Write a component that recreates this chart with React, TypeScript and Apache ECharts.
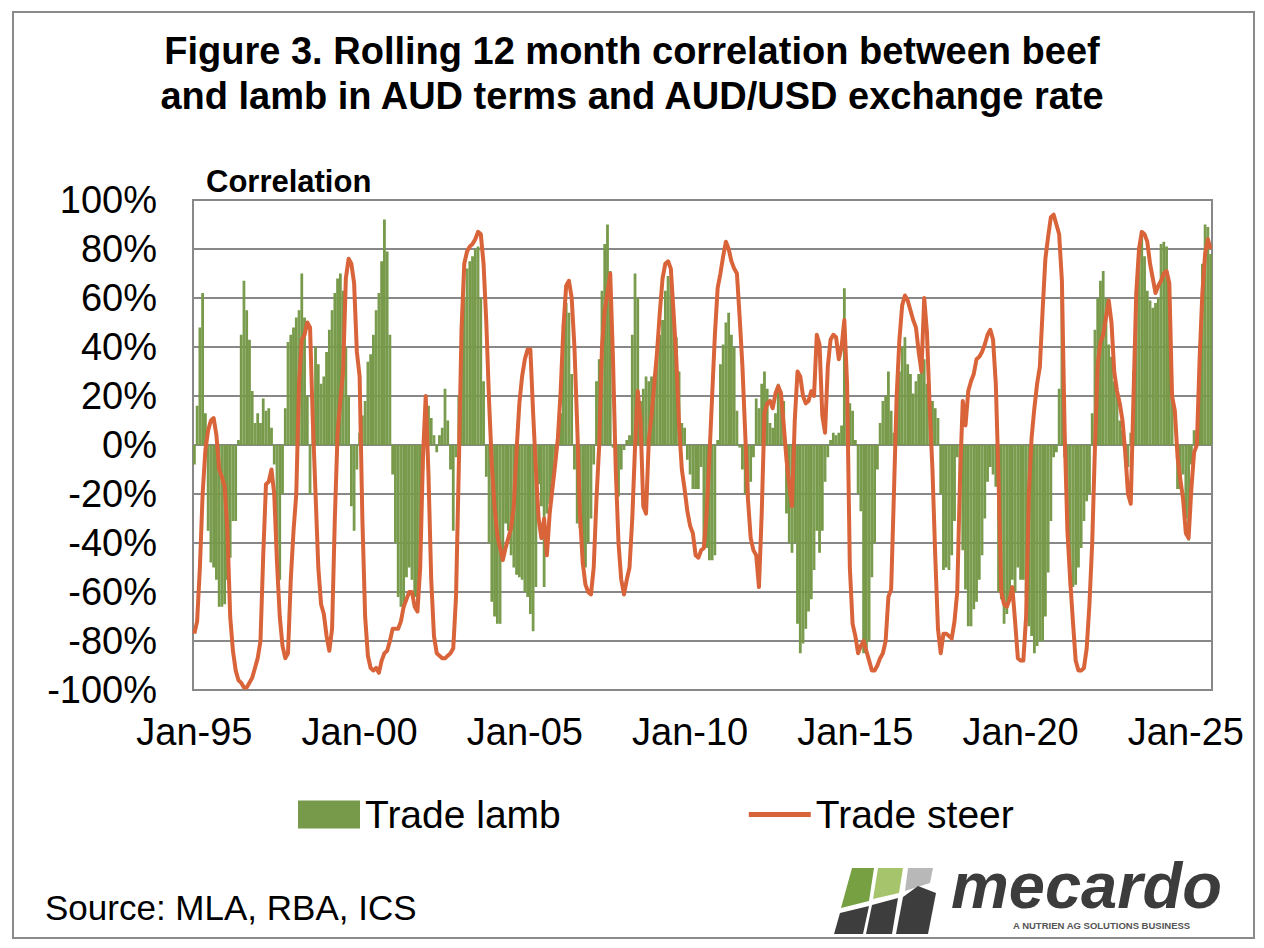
import { useEffect, useRef } from "react";
import * as echarts from "echarts";

// Monthly rolling 12-month correlations, Jan-95 onwards (percent)
const startYear = 1995;
const monthNames = ["Jan", "Feb", "Mar", "Apr", "May", "Jun", "Jul", "Aug", "Sep", "Oct", "Nov", "Dec"];

const lambCorr: number[] = [
  -8, 16, 48, 62, 13, -35, -48, -50, -55, -66, -66, -65,
  -55, -46, -31, -31, 2, 45, 67, 55, 43, 22, 9, 13,
  9, 19, 14, 15, 7, -8, -40, -55, -20, 15, 42, 45,
  48, 52, 55, 70, 52, 20, -20, 15, 40, 33, 25, 28,
  38, 47, 55, 62, 68, 70, 63, 40, 20, -25, -35, -10,
  5, 12, 18, 34, 37, 45, 55, 62, 75, 92, 79, 45,
  -12, -40, -62, -66, -66, -54, -50, -55, -62, -66, -40, -10,
  5, 16, 11, 4, -3, 4, 7, 23, 10, -10, -35, -5,
  20, 45, 60, 72, 75, 77, 80, 81, 60, 26, -13, -40,
  -64, -70, -73, -73, -47, -32, -35, -45, -50, -53, -54, -55,
  -60, -62, -69, -76, -58, -16, -25, -58, -28, -24, -15, -5,
  5, 13, 47, 58, 54, 29, -10, -32, -34, -46, -50, -40,
  -30, -8, 26, 35, 63, 82, 90, 71, -1, -5, -21, -10,
  -2, 2, 4, 45, 70, 60, 18, 23, 28, 26, 28, 29,
  37, 45, 51, 63, 69, 68, 58, 44, 30, 9, 7, -6,
  -12, -18, -18, -18, -9, -42, -42, -47, -47, -45, 2, 33,
  41, 50, 54, 45, 40, 14, -1, -10, -20, -23, -15, -5,
  19, 15, 25, 30, 23, 9, 7, 13, 25, 22, 18, -28,
  -40, -44, -40, -73, -85, -81, -75, -68, -63, -51, -35, -44,
  -35, -15, -5, 2, 5, 4, 5, 8, 64, 20, 17, 14,
  2, -20, -27, -85, -85, -80, -54, -40, -10, 9, 18, 20,
  30, 14, 5, 20, 30, 40, 44, 33, 29, 21, 26, 29,
  32, 35, 25, 18, 18, 15, 11, -20, -51, -50, -51, -45,
  -31, -5, -14, -43, -59, -74, -74, -67, -64, -55, -45, -30,
  -15, -9, -12, -17, -60, -63, -73, -69, -62, -55, -60, -50,
  -55, -55, -62, -74, -78, -85, -82, -80, -80, -70, -52, -31,
  -5, -3, 23, 64, -5, -40, -58, -58, -57, -50, -42, -31,
  -23, -20, 13, 47, 60, 67, 71, 60, 41, 36, 26, 21,
  10, 6, -5, -9, 5, 30, 63, 81, 86, 77, 63, 59,
  56, 58, 60, 82, 83, 81, 60, 20, 0, -18, -18, -12,
  -30, -39, -8, 6, 6, 40, 74, 90, 89, 78,
];

const steerCorr: number[] = [
  -77, -72, -50, -20, -2, 6, 10, 11, 4, -10, -13, -17,
  -35, -70, -84, -92, -96, -97, -99, -99, -97, -95, -91, -87,
  -80, -45, -16, -15, -10, -20, -48, -70, -82, -87, -85, -55,
  -35, -20, 25, 43, 45, 50, 48, 10, -20, -50, -65, -69,
  -78, -84, -75, -30, 5, 18, 30, 68, 76, 74, 66, 38,
  28, -30, -70, -86, -91, -92, -91, -93, -88, -85, -84, -80,
  -75, -75, -75, -72, -66, -63, -60, -60, -66, -68, -50, -5,
  20, -12, -55, -78, -85, -86, -87, -87, -86, -85, -83, -62,
  -10, 47, 74, 79, 81, 82, 84, 87, 86, 74, 50, 18,
  -8, -25, -37, -42, -47, -42, -38, -34, -25, -2, 17, 28,
  35, 39, 39, 13, -10, -30, -38, -30, -45, -28, -18, -8,
  3, 22, 48, 65, 67, 60, 40, 8, -28, -48, -57, -60,
  -61, -50, -22, 0, 40, 55, 62, 70, 35, -10, -40, -55,
  -61, -55, -50, -30, -1, 22, 10, -25, -28, 2, 12, 25,
  38, 54, 68, 74, 75, 72, 54, 35, 8, -10, -18, -27,
  -33, -36, -45, -46, -43, -42, -28, -5, 20, 45, 64, 70,
  77, 83, 80, 75, 72, 70, 52, 32, 5, -22, -38, -43,
  -45, -58, -28, 13, 17, 18, 15, 21, 24, 21, 8, -6,
  -16, -25, 10, 30, 28, 20, 17, 18, 22, 20, 45, 41,
  12, 5, 32, 43, 45, 44, 35, 40, 51, 25, -50, -73,
  -78, -85, -82, -80, -84, -88, -92, -92, -90, -87, -85, -80,
  -62, -59, -20, 20, 43, 57, 61, 59, 55, 51, 48, 38,
  30, 60, 46, 15, -10, -45, -75, -85, -77, -77, -78, -79,
  -72, -60, -14, 18, 8, 22, 26, 29, 35, 36, 38, 41,
  45, 47, 43, 25, -14, -60, -65, -66, -63, -58, -72, -87,
  -88, -88, -70, -20, 3, 15, 25, 32, 55, 76, 85, 93,
  94, 90, 86, 67, 5, -35, -55, -72, -88, -92, -92, -91,
  -83, -65, -40, -1, 33, 42, 45, 52, 59, 50, 30, 22,
  17, 10, -3, -20, -24, 20, 62, 80, 87, 86, 83, 74,
  68, 62, 65, 67, 70, 71, 66, 20, 14, -5, -14, -22,
  -36, -38, -18, -3, 0, 35, 62, 78, 84, 80,
];

const months: string[] = lambCorr.map((_, i) => {
  const yy = String((startYear + Math.floor(i / 12)) % 100).padStart(2, "0");
  return `${monthNames[i % 12]}-${yy}`;
});

const FONT = '"Liberation Sans", Arial, Helvetica, sans-serif';
const GREEN = "#779a4a";
const ORANGE = "#d9643a";
const GRID_GREY = "#888888";

export default function App() {
  const ref = useRef<HTMLDivElement>(null);

  useEffect(() => {
    if (!ref.current) return;
    const chart = echarts.init(ref.current, undefined, { renderer: "svg" });
    chart.setOption({
      animation: false,
      backgroundColor: "#ffffff",
      aria: { enabled: false, decal: { show: false } },
      title: {
        text: "Figure 3. Rolling 12 month correlation between beef\nand lamb in AUD terms and AUD/USD exchange rate",
        left: "center",
        top: 23,
        textStyle: {
          fontFamily: FONT,
          fontSize: 38,
          fontWeight: "bold",
          lineHeight: 45,
          color: "#000",
        },
      },
      legend: {
        left: 298,
        top: 795,
        padding: 0,
        itemWidth: 62,
        itemHeight: 28,
        itemGap: 188,
        itemStyle: { borderWidth: 0, decal: "none" },
        textStyle: { fontFamily: FONT, fontSize: 39, color: "#000" },
        data: [
          { name: "Trade lamb", icon: "rect" },
          { name: "Trade steer", icon: "path://M0,0L62,0L62,5L0,5Z" },
        ],
      },
      grid: {
        left: 193,
        right: 52,
        top: 200,
        bottom: 258,
        show: true,
        borderColor: GRID_GREY,
        borderWidth: 2,
        backgroundColor: "#fff",
      },
      xAxis: {
        type: "category",
        data: months,
        boundaryGap: true,
        axisTick: { show: false },
        axisLine: { show: true, lineStyle: { color: GRID_GREY, width: 2 } },
        axisLabel: {
          interval: (idx: number) => idx % 60 === 0,
          fontFamily: FONT,
          fontSize: 38,
          color: "#000",
          margin: 23,
        },
        splitLine: { show: false },
      },
      yAxis: {
        type: "value",
        min: -100,
        max: 100,
        interval: 20,
        axisLine: { show: false },
        axisTick: { show: false },
        axisLabel: {
          formatter: (v: number) => `${v}%`,
          fontFamily: FONT,
          fontSize: 38,
          color: "#000",
          margin: 36,
        },
        splitLine: { lineStyle: { color: GRID_GREY, width: 2 } },
      },
      series: [
        {
          name: "Trade lamb",
          type: "bar",
          data: lambCorr,
          barCategoryGap: "0%",
          itemStyle: { color: GREEN, borderColor: GREEN, borderWidth: 1.2 },
        },
        {
          name: "Trade steer",
          type: "line",
          data: steerCorr,
          symbol: "none",
          z: 3,
          itemStyle: { color: ORANGE },
          lineStyle: { color: ORANGE, width: 4, join: "round" },
        },
      ],
      graphic: [
        {
          type: "rect",
          silent: true,
          z: 100,
          shape: { x: 13, y: 12, width: 1241, height: 926 },
          style: { fill: "none", stroke: "#8a8a8a", lineWidth: 2 },
        },
        {
          type: "text",
          x: 206,
          y: 181,
          style: {
            text: "Correlation",
            fontFamily: FONT,
            fontSize: 31,
            fontWeight: "bold",
            fill: "#000",
            align: "left",
            verticalAlign: "middle",
          },
        },
        {
          type: "text",
          x: 45,
          y: 907,
          style: {
            text: "Source: MLA, RBA, ICS",
            fontFamily: FONT,
            fontSize: 35,
            fill: "#000",
            align: "left",
            verticalAlign: "middle",
          },
        },
        {
          type: "group",
          children: [
            { type: "polygon", shape: { points: [[852, 868], [874, 868], [869, 901], [841, 908]] }, style: { fill: "#76a041" } },
            { type: "polygon", shape: { points: [[878, 868], [903, 868], [899, 893], [873, 899]] }, style: { fill: "#a5c46c" } },
            { type: "polygon", shape: { points: [[908, 868], [933, 868], [930, 883], [905, 891]] }, style: { fill: "#b8b8b8" } },
            { type: "polygon", shape: { points: [[840, 913], [869, 906], [863, 934], [834, 934]] }, style: { fill: "#3d3d3d" } },
            { type: "polygon", shape: { points: [[872, 905], [898, 898], [892, 934], [866, 934]] }, style: { fill: "#3d3d3d" } },
            { type: "polygon", shape: { points: [[903, 897], [918, 886], [936, 893], [928, 934], [896, 934]] }, style: { fill: "#3d3d3d" } },
            {
              type: "text",
              x: 951,
              y: 885,
              style: {
                text: "mecardo",
                fontFamily: FONT,
                fontSize: 65,
                fontWeight: "bold",
                fontStyle: "italic",
                fill: "#3c3c3c",
                align: "left",
                verticalAlign: "middle",
              },
            },
            {
              type: "text",
              x: 1013,
              y: 925,
              style: {
                text: "A NUTRIEN AG SOLUTIONS BUSINESS",
                fontFamily: FONT,
                fontSize: 9.5,
                fontWeight: "bold",
                fill: "#555",
                align: "left",
                verticalAlign: "middle",
              },
            },
          ],
        },
      ],
    });
    return () => chart.dispose();
  }, []);

  return (
    <div
      ref={ref}
      style={{ position: "absolute", left: 0, top: 0, width: 1264, height: 948, background: "#fff" }}
    />
  );
}
